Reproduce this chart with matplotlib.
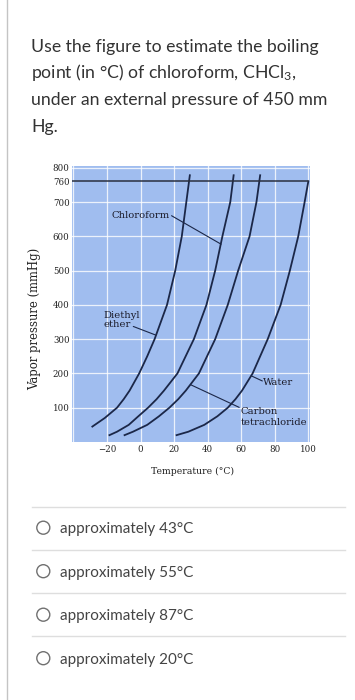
import matplotlib
matplotlib.use('Agg')
import matplotlib.pyplot as plt
from matplotlib.lines import Line2D
from matplotlib.patches import Ellipse

# vapour pressure curves (temperature in C, pressure in mmHg)
ether_p = [45, 70, 100, 125, 150, 200, 250, 300, 400, 500, 600, 700, 778]
ether_t = [-28.7, -21.3, -14.0, -10.0, -6.5, -0.8, 4.0, 8.4, 15.8, 20.7,
           24.6, 27.3, 29.4]

chloroform_p = [20, 30, 50, 75, 100, 125, 150, 200, 300, 400, 500, 600, 700,
                778]
chloroform_t = [-18.5, -14.0, -7.0, -1.3, 4.5, 9.6, 14.0, 22.0, 31.8, 39.3,
                44.5, 48.8, 53.5, 55.5]

ccl4_p = [20, 30, 50, 75, 100, 125, 150, 200, 300, 400, 500, 600, 700, 778]
ccl4_t = [-9.5, -4.5, 4.0, 11.0, 17.2, 22.5, 27.0, 34.8, 44.5, 52.0, 58.2,
          65.0, 69.1, 71.3]

water_p = [20, 30, 50, 75, 100, 125, 150, 200, 300, 400, 500, 600, 700, 760]
water_t = [21.5, 28.5, 38.0, 45.8, 52.0, 56.6, 60.5, 66.8, 75.8, 83.5, 89.0,
           94.0, 97.8, 100.0]

atm = 760

x_ticks = [-20, 0, 20, 40, 60, 80, 100]
y_ticks = [100, 200, 300, 400, 500, 600, 700, 760, 800]
x_grid = [-40, -20, 0, 20, 40, 60, 80, 100]
y_grid = [100, 200, 300, 400, 500, 600, 700, 800]

question = ["Use the figure to estimate the boiling",
            "point (in \u00b0C) of chloroform, CHCl$_{3}$,",
            "under an external pressure of 450 mm",
            "Hg."]
options = ["approximately 43\u00b0C", "approximately 55\u00b0C",
           "approximately 87\u00b0C", "approximately 20\u00b0C"]

W, H = 355, 700


def fx(x):
    return x / W


def fy(y):
    return 1 - y / H


plt.rcParams['mathtext.default'] = 'regular'

fig = plt.figure(figsize=(W / 100, H / 100), dpi=100)
fig.patch.set_facecolor('white')

# left border of the page
fig.add_artist(Line2D([fx(7.3), fx(7.3)], [0, 1], transform=fig.transFigure,
                      color='#c4c4c4', lw=1.0))

# question text
for i, line in enumerate(question):
    fig.text(fx(31), fy(51.7 + i * 26.7), line, family='Lato', fontsize=12.7,
             color='#333333', ha='left', va='baseline')

# chart
ax = fig.add_axes([fx(71.7), fy(442), fx(310) - fx(71.7), fy(166) - fy(442)])
ax.set_facecolor('#a0bdef')
for s in ax.spines.values():
    s.set_visible(False)
ax.set_xlim(-41, 101)
ax.set_ylim(0, 805)

for g in x_grid:
    ax.axvline(g, color='white', lw=0.9, alpha=0.8, zorder=1)
for g in y_grid:
    ax.axhline(g, color='white', lw=0.9, alpha=0.8, zorder=1)

line_kw = dict(color='#1b2748', lw=1.3, zorder=3, solid_joinstyle='round')
ax.plot(ether_t, ether_p, **line_kw)
ax.plot(chloroform_t, chloroform_p, **line_kw)
ax.plot(ccl4_t, ccl4_p, **line_kw)
ax.plot(water_t, water_p, **line_kw)
ax.plot([ax.get_xlim()[0], water_t[-1]], [atm, atm], color='#2a3040', lw=1.1,
        zorder=3)

ax.set_xticks(x_ticks)
ax.set_xticklabels([str(v).replace('-', '\u2212') for v in x_ticks])
ax.set_yticks(y_ticks)
ax.set_yticklabels([str(v) for v in y_ticks])
ax.tick_params(length=0, labelsize=6.2, labelcolor='#222222')
ax.tick_params(axis='y', pad=1.5)
ax.tick_params(axis='x', pad=2.0)
for lab in ax.get_xticklabels() + ax.get_yticklabels():
    lab.set_family('DejaVu Serif')

ax.set_xlabel('Temperature (\u00b0C)', family='DejaVu Serif', fontsize=6.7,
              color='#222222')
ax.xaxis.set_label_coords(0.509, -0.09)
ax.set_ylabel('Vapor pressure (mmHg)', family='DejaVu Serif', fontsize=8.4,
              color='#222222')
ax.yaxis.set_label_coords(-0.13, 0.445)

txt_kw = dict(family='DejaVu Serif', fontsize=7.2, color='#1a1a28')
ptr = dict(arrowstyle='-', color='#1b2748', lw=0.8, shrinkA=0, shrinkB=0)

ax.text(0, 662, 'Chloroform', ha='center', va='center', **txt_kw)
ax.annotate('', xy=(48, 577), xytext=(18.5, 660), arrowprops=ptr)

ax.text(-22, 355, 'Diethyl\nether', ha='left', va='center', linespacing=1.05,
        **txt_kw)
ax.annotate('', xy=(9, 312), xytext=(-4.3, 337), arrowprops=ptr)

ax.text(73.2, 174, 'Water', ha='left', va='center', **txt_kw)
ax.annotate('', xy=(66, 193), xytext=(72.6, 178), arrowprops=ptr)

ax.text(59.4, 72, 'Carbon\ntetrachloride', ha='left', va='center',
        linespacing=1.3, **txt_kw)
ax.annotate('', xy=(29.9, 167), xytext=(58.8, 101), arrowprops=ptr)

# answer options
sep_y = [506.7, 550.0, 593.3, 636.3]
for y in sep_y:
    fig.add_artist(Line2D([fx(31.7), fx(345)], [fy(y), fy(y)],
                          transform=fig.transFigure, color='#dedede', lw=1.0))
for i, opt in enumerate(options):
    cy = 527.7 + i * 43.5
    fig.add_artist(Ellipse((fx(43.3), fy(cy)), 2 * 6.5 / W, 2 * 6.5 / H,
                           transform=fig.transFigure, facecolor='white',
                           edgecolor='#707070', lw=1.0))
    fig.text(fx(60), fy(cy + 5.6), opt, family='Lato', fontsize=11,
             color='#444444', ha='left', va='baseline')

fig.savefig('out.png', dpi=100)
plt.close(fig)
